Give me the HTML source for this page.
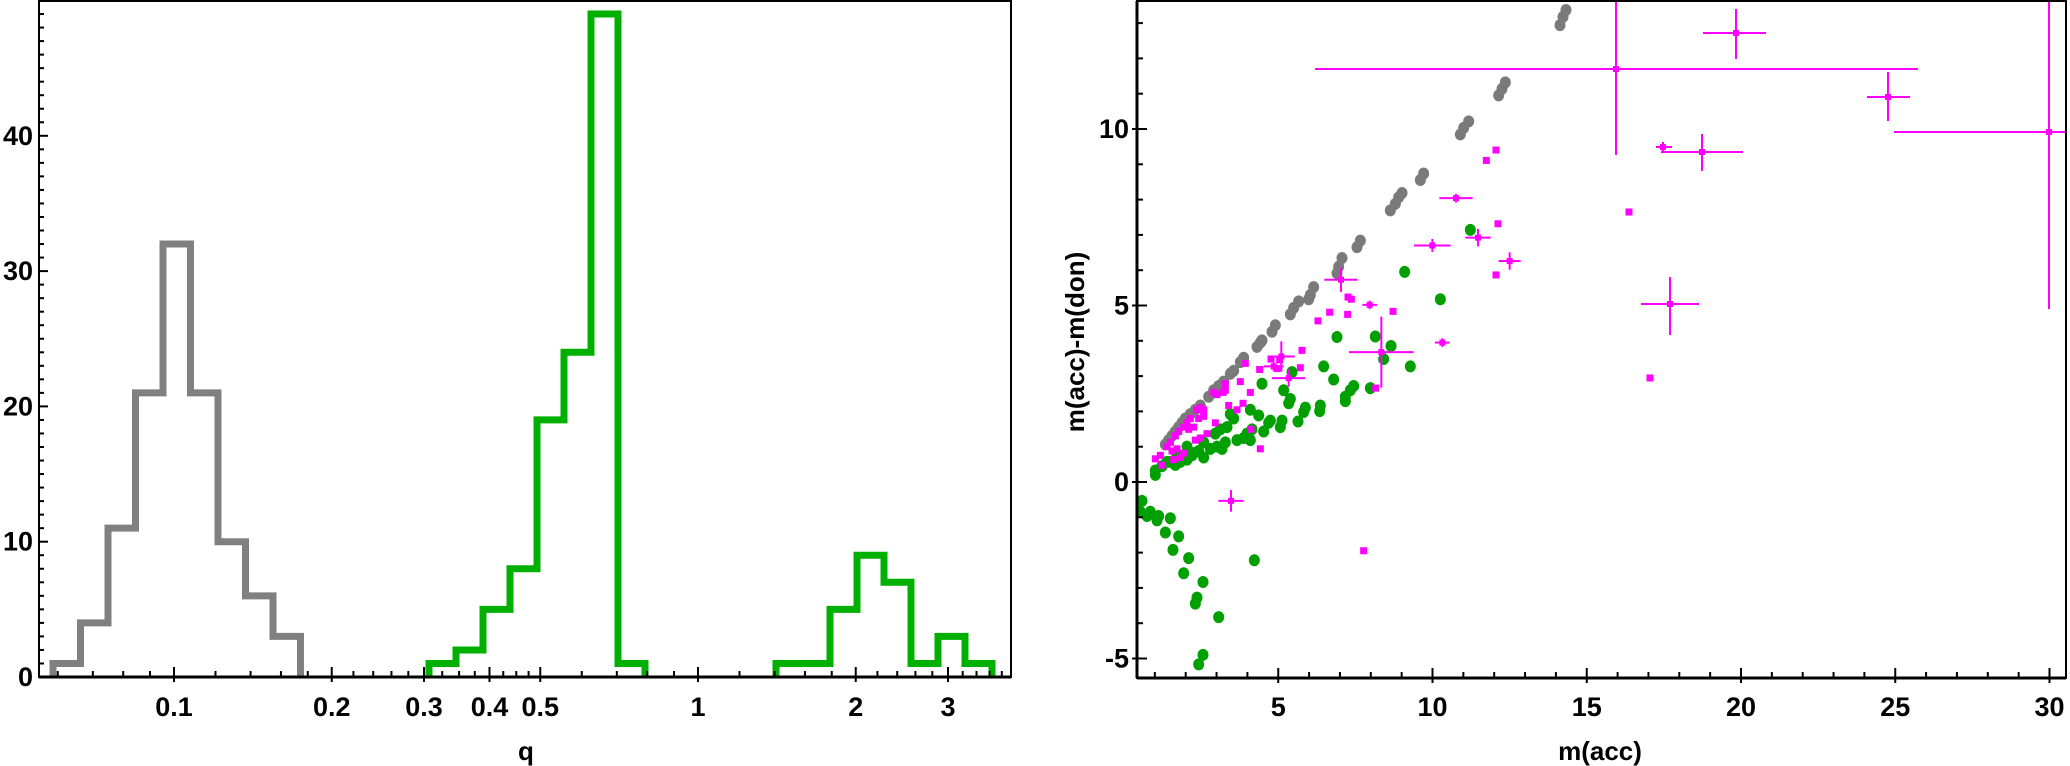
<!DOCTYPE html>
<html><head><meta charset="utf-8"><style>
html,body{margin:0;padding:0;background:#fff;}
svg{display:block;}
text{font-family:"Liberation Sans",Arial,sans-serif;font-weight:bold;fill:#000;}
</style></head><body>
<svg id="s" width="2070" height="766" viewBox="0 0 2070 766" xmlns="http://www.w3.org/2000/svg">
<rect width="2070" height="766" fill="#fff"/>
<g id="L"></g>
<g id="R"></g>
<text x="526" y="760" font-size="26" text-anchor="middle">q</text>
<text x="1600" y="760" font-size="26" text-anchor="middle">m(acc)</text>
<text transform="translate(1084,342) rotate(-90)" font-size="26" text-anchor="middle">m(acc)-m(don)</text>
</svg>
<script>
var NS="http://www.w3.org/2000/svg";
function el(p,t,a,txt){var e=document.createElementNS(NS,t);for(var k in a)e.setAttribute(k,a[k]);if(txt!==undefined)e.textContent=txt;p.appendChild(e);return e;}
var L=document.getElementById('L'),R=document.getElementById('R');
var FS=27;
// ---------- LEFT PANEL ----------
var lx0=39,lx1=1011,ly0=1,ly1=677;
function qx(q){return 698+524*Math.log10(q);}
function cy(c){return 677-13.53*c;}
function hist(edges,counts,col){
  var d="M"+edges[0]+","+cy(0);
  for(var i=0;i<counts.length;i++){d+=" L"+edges[i]+","+cy(counts[i])+" L"+edges[i+1]+","+cy(counts[i]);}
  d+=" L"+edges[edges.length-1]+","+cy(0);
  el(L,'path',{d:d,fill:'none',stroke:col,'stroke-width':7,'stroke-linejoin':'miter'});
}
hist([53,80.5,108,135.5,163,190.5,218,245.5,273,300.5],[1,4,11,21,32,21,10,6,3],'#808080');
hist([429,456,483,510,537,564,591,618,645],[1,2,5,8,19,24,49,1],'#00b000');
hist([776,803,830,857,884,911,938,965,992],[1,1,5,9,7,1,3,1],'#00b000');
el(L,'rect',{x:lx0,y:ly0,width:lx1-lx0,height:ly1-ly0,fill:'none',stroke:'#000','stroke-width':2});
el(L,'line',{x1:lx0,y1:ly1,x2:lx1,y2:ly1,stroke:'#000','stroke-width':3});
for(var c=0;c<=50;c++){var y=cy(c);var maj=c%10==0;
  el(L,'line',{x1:lx0,y1:y,x2:lx0+(maj?9:5),y2:y,stroke:'#000','stroke-width':2});
  if(maj&&c<=40)el(L,'text',{x:33,y:y+9,'font-size':FS,'text-anchor':'end'},String(c));}
var minors=[0.06,0.07,0.08,0.09,0.12,0.14,0.16,0.18,0.22,0.24,0.26,0.28,0.325,0.35,0.375,0.425,0.45,0.475,0.6,0.7,0.8,0.9,1.2,1.4,1.6,1.8,2.2,2.4,2.6,2.8,3.2,3.4,3.6,3.8];
minors.forEach(function(q){var x=qx(q);el(L,'line',{x1:x,y1:ly1,x2:x,y2:ly1-6,stroke:'#000','stroke-width':2});});
[[0.1,'0.1'],[0.2,'0.2'],[0.3,'0.3'],[0.4,'0.4'],[0.5,'0.5'],[1,'1'],[2,'2'],[3,'3']].forEach(function(t){var x=qx(t[0]);
  el(L,'line',{x1:x,y1:ly1+5,x2:x,y2:ly1-10,stroke:'#000','stroke-width':2});
  el(L,'text',{x:x,y:716,'font-size':FS,'text-anchor':'middle'},t[1]);});
// ---------- RIGHT PANEL ----------
var rx0=1137,rx1=2066,ry0=1,ry1=678;
function Z(zx,zy){return [1137+zx/3,zy/2.306];}
function dX(v){return 1124+30.85*v;}
function dY(v){return 482-35.3*v;}
var clip=el(R,'clipPath',{id:'cp'});el(clip,'rect',{x:rx0,y:ry0,width:rx1-rx0,height:ry1-ry0});
var G=el(R,'g',{'clip-path':'url(#cp)'});
var grey=[[85,1025],[95,1015],[105,1005],[115,995],[125,985],[135,975],[145,965],[160,955],[175,945],[190,935],[215,915],[230,900],[245,890],[260,880],[280,862],[290,855],[310,835],[320,825],[360,800],[370,790],[375,785],[405,765],[415,750],[460,725],[470,710],[485,695],[515,690],[520,680],[530,662],[600,630],[605,615],[615,595],[660,570],[670,555],[760,485],[775,470],[785,455],[795,445],[850,415],[860,400],[970,310],[980,295],[995,280],[1085,220],[1095,205],[1105,190],[1269,58],[1278,39],[1287,23]];
grey.forEach(function(p){var c=Z(p[0],p[1]);el(G,'ellipse',{cx:c[0],cy:c[1],rx:5.5,ry:6,fill:'#7a7a7a'});});
var green=[[15,1155],[10,1180],[40,1180],[30,1190],[65,1190],[60,1200],[100,1195],[85,1228],[125,1237],[108,1268],[155,1287],[140,1322],[198,1342],[180,1378],[175,1392],[245,1423],[198,1510],[185,1532],[352,1292],
[55,1085],[55,1095],[75,1075],[100,1065],[115,1072],[150,1060],[165,1050],[200,1055],[185,1040],[220,1035],[240,1030],[255,1035],[265,1020],[235,1000],[250,990],[270,985],[280,955],[290,965],[300,1015],[320,1010],[330,1000],[340,1015],[345,990],[340,945],[365,958],[380,995],[395,975],[400,970],[430,985],[435,970],[455,930],[460,920],[440,900],[465,858],[375,885],[483,972],[505,940],[500,950],[550,935],[548,948],[560,845],[590,875],[600,777],[625,925],[625,915],[650,890],[640,900],[700,895],[715,776],[740,828],[762,798],[820,845],[803,627],[910,690],[1000,530],[150,1030],[170,1045],[120,1050],[90,1065],[200,1020],[130,1065]];
green.forEach(function(p){var c=Z(p[0],p[1]);el(G,'ellipse',{cx:c[0],cy:c[1],rx:5.5,ry:6,fill:'#00a000'});});
var sq=[[55,1058],[75,1073],[70,1050],[90,1030],[100,1020],[105,1040],[110,1060],[120,1035],[130,1055],[140,1045],[115,1005],[125,995],[140,985],[150,975],[160,965],[155,990],[170,985],[180,945],[190,940],[200,945],[185,965],[200,960],[175,1015],[190,1010],[210,1000],[235,975],[230,905],[240,910],[265,885],[265,900],[275,935],[300,945],[310,880],[318,930],[325,838],[340,905],[342,990],[370,1035],[368,852],[402,828],[420,850],[428,830],[490,848],[495,808],[543,740],[578,720],[632,725],[633,685],[643,690],[768,718],[716,895],[680,1270],[1048,370],[1077,346],[1083,516],[1077,634],[258,905]];
sq.forEach(function(p){var c=Z(p[0],p[1]);el(G,'rect',{x:c[0]-3.5,y:c[1]-3.5,width:7,height:7,fill:'#ff00ff'});});
[[1629,212],[1650,378]].forEach(function(c){el(G,'rect',{x:c[0]-3.5,y:c[1]-3.5,width:7,height:7,fill:'#ff00ff'});});
function cross(x,y,x1,x2,y1,y2){
  el(G,'line',{x1:x1,y1:y,x2:x2,y2:y,stroke:'#ff00ff','stroke-width':2});
  el(G,'line',{x1:x,y1:y1,x2:x,y2:y2,stroke:'#ff00ff','stroke-width':2});
  el(G,'rect',{x:x-3,y:y-3,width:6,height:6,fill:'#ff00ff'});
}
[[282,1155,38,25],[433,822,40,35],[455,872,50,20],[612,645,50,28],[733,812,97,82],[698,703,22,10],[886,566,55,15],[957,457,50,10],[1023,548,38,20],[1118,602,33,20],[916,790,22,10],[410,845,30,10]].forEach(function(e){
  var c=Z(e[0],e[1]);cross(c[0],c[1],c[0]-e[2]/3,c[0]+e[2]/3,c[1]-e[3]/2.306,c[1]+e[3]/2.306);});
cross(1616,69,1315,1918,2,155);
cross(1736,33,1703,1766,9,59);
cross(1888,97,1867,1910,72,121);
cross(1663,147,1656,1672,142,152);
cross(1702,152,1661,1743,134,171);
cross(2049,132,1894,2070,0,309);
cross(1670,304,1641,1699,277,335);
el(R,'rect',{x:rx0,y:ry0,width:rx1-rx0,height:ry1-ry0,fill:'none',stroke:'#000','stroke-width':2});
el(R,'line',{x1:rx0,y1:ry1,x2:rx1,y2:ry1,stroke:'#000','stroke-width':3});
el(R,'line',{x1:rx0,y1:ry0,x2:rx0,y2:ry1,stroke:'#000','stroke-width':3});
for(var v=1;v<=30;v++){var x=dX(v);var maj=v%5==0;
  el(R,'line',{x1:x,y1:ry1,x2:x,y2:ry1-(maj?10:6),stroke:'#000','stroke-width':2});
  if(maj){el(R,'line',{x1:x,y1:ry1,x2:x,y2:ry1+5,stroke:'#000','stroke-width':2});
    el(R,'text',{x:x,y:716,'font-size':FS,'text-anchor':'middle'},String(v));}}
for(var v=-5;v<=13;v++){var y=dY(v);var maj=v%5==0;
  el(R,'line',{x1:rx0,y1:y,x2:rx0+(maj?10:6),y2:y,stroke:'#000','stroke-width':2});
  if(maj){el(R,'line',{x1:rx0-5,y1:y,x2:rx0,y2:y,stroke:'#000','stroke-width':2});
    el(R,'text',{x:1129,y:y+9,'font-size':FS,'text-anchor':'end'},String(v));}}
</script>
</body></html>
